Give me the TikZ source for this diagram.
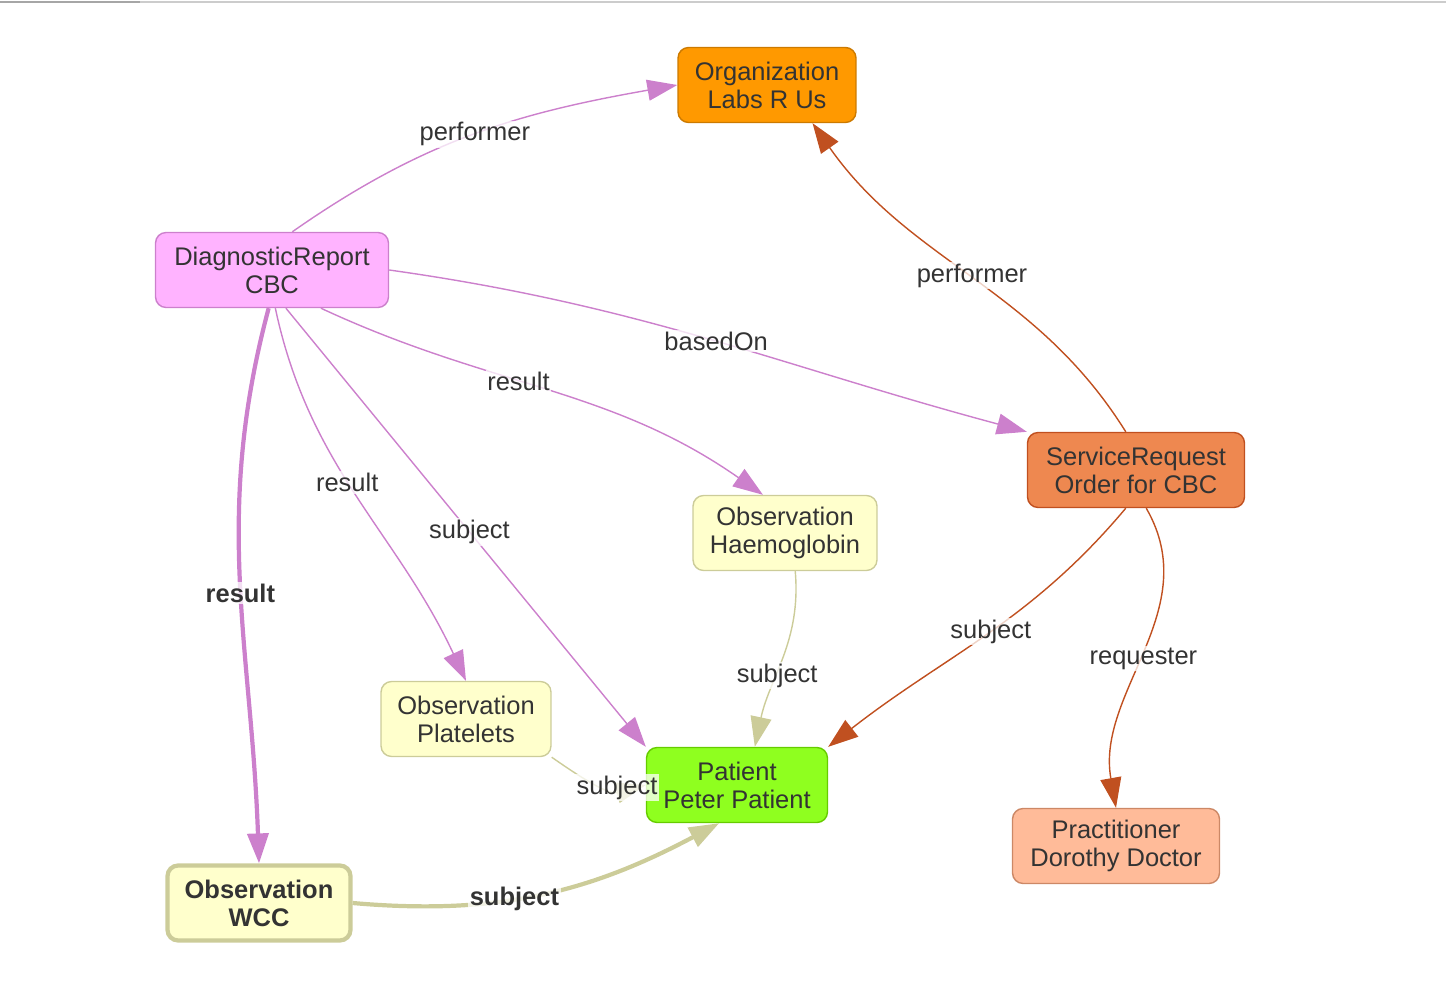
\documentclass[tikz,border=0pt]{standalone}
\usepackage{fontspec}
\setmainfont{Liberation Sans}
\usetikzlibrary{arrows.meta}
\definecolor{pinkE}{HTML}{CC80CC}
\definecolor{brownE}{HTML}{C05020}
\definecolor{oliveE}{HTML}{CCCC99}
\definecolor{txt}{HTML}{333333}
\definecolor{orgF}{HTML}{FF9900}\definecolor{orgD}{HTML}{CC7A00}
\definecolor{drF}{HTML}{FFB3FF}\definecolor{drD}{HTML}{CC80CC}
\definecolor{srF}{HTML}{EE8850}\definecolor{srD}{HTML}{C05020}
\definecolor{obF}{HTML}{FFFFCC}\definecolor{obD}{HTML}{CCCC99}
\definecolor{paF}{HTML}{8FFF1F}\definecolor{paD}{HTML}{66CC00}
\definecolor{prF}{HTML}{FFBB99}\definecolor{prD}{HTML}{CC8866}
\begin{document}
\begin{tikzpicture}[x=0.02cm,y=0.02cm,
  box/.style={draw,rounded corners=6pt,line width=0.8pt,minimum height=1.5cm,inner xsep=0.2cm,align=center,text=txt,font=\fontsize{14.5}{16}\selectfont},
  lbl/.style={fill=white,fill opacity=0.75,text opacity=1,inner sep=1pt,text=txt,font=\fontsize{14.5}{16}\selectfont},
  e/.style={line width=0.8pt,-{Triangle[length=0.6cm,width=0.42cm]}},
  ep/.style={e,pinkE},
  eb/.style={e,brownE},
  eo/.style={e,oliveE},
  thk/.style={line width=2.4pt}]
\useasboundingbox (0,0) rectangle (1446,998);
\draw[gray!40,line width=1pt] (0,996) -- (1446,996);
\draw[gray!70,line width=1.5pt] (0,996) -- (140,996);
\node[box,fill=orgF,draw=orgD,minimum width=3.56cm] (org) at (767,913) {Organization\\Labs R Us};
\node[box,fill=drF,draw=drD,minimum width=4.66cm] (dr) at (272,728) {DiagnosticReport\\CBC};
\node[box,fill=srF,draw=srD,minimum width=4.34cm] (sr) at (1136,528) {ServiceRequest\\Order for CBC};
\node[box,fill=obF,draw=obD,minimum width=3.68cm] (hae) at (785,465) {Observation\\Haemoglobin};
\node[box,fill=obF,draw=obD,minimum width=3.4cm] (pla) at (466,279) {Observation\\Platelets};
\node[box,fill=paF,draw=paD,minimum width=3.62cm] (pat) at (737,213) {Patient\\Peter Patient};
\node[box,fill=prF,draw=prD,minimum width=4.14cm] (pra) at (1116,152) {Practitioner\\Dorothy Doctor};
\node[box,fill=obF,draw=obD,minimum width=3.66cm,line width=2.4pt,font=\fontsize{14.5}{16}\selectfont\bfseries] (wcc) at (259,95) {Observation\\WCC};

\draw[ep] (dr.62) to[out=35,in=190] node[lbl,pos=0.5]{performer} (org.west);
\draw[eb] (sr.105) to[out=122,in=-55] node[lbl,pos=0.5]{performer} (org.-40);
\draw[ep] (dr.east) to[out=-8,in=165] node[lbl,pos=0.51]{basedOn} (sr.north west);
\draw[ep] (dr.-38) to[out=-25,in=145] node[lbl,pos=0.43]{result} (hae.120);
\draw[ep] (dr.-85) to[out=-78,in=115] node[lbl,pos=0.45]{result} (pla.north);
\draw[ep] (dr.-70) -- node[lbl,pos=0.51]{subject} (pat.north west);
\draw[ep,thk] (dr.-95) to[out=-105,in=92] node[lbl,pos=0.52,font=\fontsize{14.5}{16}\selectfont\bfseries]{result} (wcc.north);
\draw[eo] (hae.-75) to[out=-85,in=78] node[lbl,pos=0.6]{subject} (pat.65);
\draw[eo] (pla.south east) to[out=-35,in=195] node[lbl,pos=0.72]{subject} (pat.west);
\draw[eo,thk] (wcc.east) to[out=-5,in=208] node[lbl,pos=0.42,font=\fontsize{14.5}{16}\selectfont\bfseries]{subject} (pat.-115);
\draw[eb] (sr.-105) to[out=-130,in=38] node[lbl,pos=0.48]{subject} (pat.north east);
\draw[eb] (sr.-75) to[out=-60,in=100] node[lbl,pos=0.52]{requester} (pra.north);
\end{tikzpicture}
\end{document}
